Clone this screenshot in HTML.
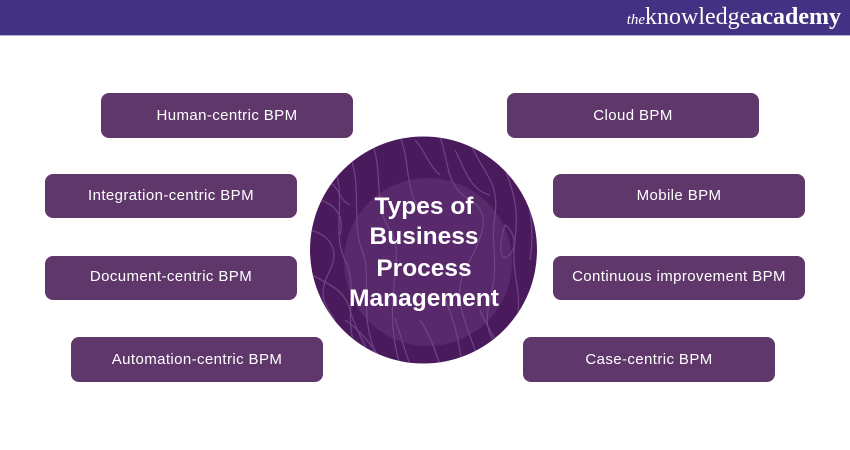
<!DOCTYPE html>
<html>
<head>
<meta charset="utf-8">
<style>
  html,body{margin:0;padding:0;background:#fff;}
  body{width:850px;height:450px;overflow:hidden;position:relative;font-family:"Liberation Sans",sans-serif;}
  .hdr{position:absolute;left:0;top:0;width:850px;height:36px;background:#433283;}
  .hdr .line{position:absolute;left:0;top:35px;width:850px;height:1px;background:#b9b0d6;}
  .logo{position:absolute;right:9px;top:3px;color:#fff;font-family:"Liberation Serif",serif;font-size:24px;line-height:28px;white-space:nowrap;}
  .logo i{font-size:15px;}
  .logo b{font-weight:bold;}
  .box{position:absolute;width:252px;height:45px;background:#5f376b;border-radius:8px;color:#fff;font-size:15px;letter-spacing:0.4px;line-height:45px;text-align:center;white-space:nowrap;}
</style>
</head>
<body>
<div class="hdr"><div class="line"></div><div class="logo"><i>the</i>knowledge<b>academy</b></div></div>

<div class="box" style="left:101px;top:93px;">Human-centric BPM</div>
<div class="box" style="left:45px;top:174px;height:44px;line-height:44px;">Integration-centric BPM</div>
<div class="box" style="left:45px;top:256px;height:44px;line-height:42px;">Document-centric BPM</div>
<div class="box" style="left:71px;top:337px;">Automation-centric BPM</div>

<div class="box" style="left:507px;top:93px;">Cloud BPM</div>
<div class="box" style="left:553px;top:174px;height:44px;line-height:44px;">Mobile BPM</div>
<div class="box" style="left:553px;top:256px;height:44px;line-height:42px;">Continuous improvement BPM</div>
<div class="box" style="left:523px;top:337px;">Case-centric BPM</div>

<svg style="position:absolute;left:0;top:0" width="850" height="450" viewBox="0 0 850 450">
  <defs>
    <clipPath id="c"><circle cx="423.5" cy="250" r="113.5"/></clipPath>
  </defs>
  <circle cx="423.5" cy="250" r="113.5" fill="#4a1b5c"/>
  <g clip-path="url(#c)">
    <circle cx="428" cy="262" r="84" fill="#58296b"/>
    <g fill="none" stroke="#74498b" stroke-width="1.2" opacity="0.9">
      <path d="M330 160 C350 190 330 230 345 260 S 340 320 360 360"/>
      <path d="M345 145 C365 180 350 220 362 250 S 355 310 380 365"/>
      <path d="M370 138 C385 170 372 205 390 230 S 380 300 400 365"/>
      <path d="M400 137 C410 160 405 190 420 210"/>
      <path d="M440 137 C450 165 445 185 470 200 S 480 240 465 270 S 470 330 480 365"/>
      <path d="M470 142 C480 170 500 180 495 215 S 500 260 490 300 S 500 340 505 360"/>
      <path d="M500 155 C510 185 520 200 515 240 S 525 290 515 330"/>
      <path d="M520 175 C530 200 535 230 530 260"/>
      <path d="M310 230 C330 235 340 250 330 270 S 320 300 335 320"/>
      <path d="M312 275 C330 285 345 290 350 310 S 365 340 370 362"/>
      <path d="M420 320 C430 335 435 350 440 365"/>
      <path d="M445 300 C455 320 458 340 462 362"/>
      <path d="M395 318 C400 335 405 350 410 365"/>
      <path d="M505 225 C515 232 518 248 508 256 S 500 240 505 225 Z"/>
      <path d="M345 320 C360 330 372 345 385 365"/>
      <path d="M455 150 C465 170 470 190 490 195"/>
      <path d="M320 200 C335 205 345 215 340 235"/>
      <path d="M480 310 C485 325 495 335 500 350"/>
      <path d="M325 180 C340 185 338 200 350 205"/>
      <path d="M415 140 C425 150 428 165 440 175"/>
    </g>
  </g>
  <g fill="#fff" font-family="Liberation Sans, sans-serif" font-weight="bold" font-size="24.5" text-anchor="middle">
    <text x="424" y="214">Types of</text>
    <text x="424" y="244">Business</text>
    <text x="424" y="276">Process</text>
    <text x="424" y="306">Management</text>
  </g>
</svg>
</body>
</html>
